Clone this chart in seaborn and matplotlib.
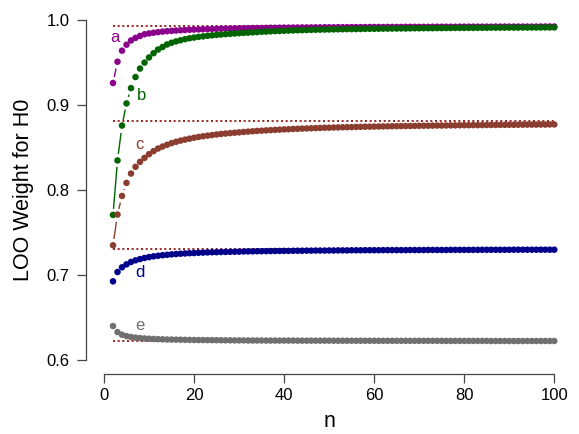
import pandas as pd
import matplotlib.pyplot as plt
import seaborn as sns

# sample size n and LOO weight for H0
n = list(range(2, 101))

weight_a = [.9260, .9510, .9640, .9710, .9760, .9790, .9813, .9833, .9843,
            .9851, .9858, .9864, .9869, .9873, .9877, .9880, .9883, .9886, .9888,
            .9890, .9892, .9894, .9896, .9897, .9898, .9900, .9901, .9902, .9903,
            .9904, .9905, .9906, .9907, .9907, .9908, .9909, .9909, .9910, .9911,
            .9911, .9912, .9912, .9913, .9913, .9913, .9914, .9914, .9915, .9915,
            .9915, .9916, .9916, .9916, .9917, .9917, .9917, .9917, .9918, .9918,
            .9918, .9918, .9919, .9919, .9919, .9919, .9920, .9920, .9920, .9920,
            .9920, .9920, .9921, .9921, .9921, .9921, .9921, .9921, .9922, .9922,
            .9922, .9922, .9922, .9922, .9922, .9922, .9923, .9923, .9923, .9923,
            .9923, .9923, .9923, .9923, .9923, .9923, .9924, .9924, .9924, .9924]

weight_b = [.7710, .8350, .8760, .9020, .9200, .9330, .9430, .9500, .9560,
            .9610, .9653, .9683, .9713, .9733, .9749, .9762, .9775, .9786, .9794,
            .9802, .9808, .9815, .9820, .9825, .9830, .9834, .9838, .9842, .9846,
            .9849, .9852, .9855, .9858, .9862, .9864, .9867, .9870, .9872, .9874,
            .9876, .9878, .9880, .9881, .9883, .9884, .9886, .9887, .9888, .9889,
            .9890, .9891, .9892, .9893, .9893, .9894, .9895, .9896, .9897, .9897,
            .9898, .9899, .9899, .9900, .9900, .9901, .9901, .9902, .9903, .9903,
            .9904, .9904, .9904, .9905, .9905, .9906, .9906, .9907, .9907, .9907,
            .9908, .9908, .9909, .9909, .9909, .9910, .9910, .9910, .9911, .9911,
            .9911, .9911, .9912, .9912, .9912, .9912, .9912, .9913, .9913, .9913]

weight_c = [.7353, .7714, .7933, .8086, .8196, .8275, .8333, .8380, .8424,
            .8459, .8490, .8513, .8534, .8553, .8569, .8583, .8595, .8606, .8617,
            .8626, .8634, .8642, .8648, .8655, .8661, .8666, .8671, .8676, .8680,
            .8685, .8689, .8693, .8697, .8700, .8703, .8706, .8709, .8712, .8715,
            .8717, .8720, .8722, .8724, .8726, .8728, .8730, .8732, .8734, .8735,
            .8737, .8738, .8740, .8741, .8742, .8744, .8745, .8746, .8747, .8748,
            .8749, .8750, .8751, .8752, .8753, .8754, .8754, .8755, .8756, .8757,
            .8758, .8758, .8759, .8760, .8760, .8761, .8762, .8762, .8763, .8764,
            .8764, .8765, .8765, .8766, .8766, .8767, .8767, .8768, .8768, .8769,
            .8769, .8770, .8770, .8771, .8771, .8771, .8772, .8772, .8773, .8773]

weight_d = [.6929, .7039, .7094, .7129, .7157, .7176, .7191, .7204, .7214,
            .7223, .7230, .7236, .7241, .7246, .7250, .7254, .7257, .7260, .7262,
            .7265, .7267, .7269, .7271, .7272, .7274, .7275, .7276, .7277, .7278,
            .7280, .7281, .7282, .7283, .7283, .7284, .7285, .7286, .7286, .7287,
            .7287, .7288, .7289, .7289, .7290, .7290, .7291, .7291, .7291, .7292,
            .7292, .7293, .7293, .7293, .7294, .7294, .7294, .7295, .7295, .7295,
            .7295, .7296, .7296, .7296, .7296, .7296, .7296, .7297, .7297, .7297,
            .7297, .7298, .7298, .7298, .7298, .7298, .7299, .7299, .7299, .7299,
            .7299, .7299, .7299, .7300, .7300, .7300, .7300, .7300, .7300, .7300,
            .7301, .7301, .7301, .7301, .7301, .7301, .7301, .7301, .7301, .7301]

weight_e = [.6404, .6333, .6302, .6286, .6275, .6268, .6263, .6258, .6255,
            .6252, .6250, .6248, .6246, .6245, .6244, .6243, .6242, .6241, .6240,
            .6239, .6239, .6238, .6238, .6237, .6237, .6236, .6236, .6235, .6235,
            .6235, .6234, .6234, .6234, .6234, .6233, .6233, .6233, .6233, .6233,
            .6233, .6233, .6232, .6232, .6232, .6232, .6232, .6232, .6232, .6232,
            .6231, .6231, .6231, .6231, .6231, .6231, .6231, .6231, .6231, .6231,
            .6230, .6230, .6230, .6230, .6230, .6230, .6230, .6230, .6230, .6230,
            .6230, .6230, .6230, .6230, .6230, .6229, .6229, .6229, .6229, .6229,
            .6229, .6229, .6229, .6229, .6229, .6228, .6228, .6228, .6228, .6228,
            .6228, .6228, .6228, .6228, .6228, .6228, .6228, .6228, .6228, .6228]

# limiting values (dotted lines)
limits = [0.9933, 0.8808, 0.7311, 0.6225]

series_names = ['a', 'b', 'c', 'd', 'e']
series_colors = ['#8B008B', '#006400', '#8B3E2F', '#00008B', '#707070']
label_x = [2.5, 8.4, 7.9, 8.0, 8.0]
label_y = [0.980, 0.911, 0.854, 0.703, 0.641]

df = pd.DataFrame({
    'n': n * 5,
    'weight': weight_a + weight_b + weight_c + weight_d + weight_e,
    'series': [s for s in series_names for _ in n],
})
palette = dict(zip(series_names, series_colors))

sns.set_style('ticks')
plt.rcParams['font.family'] = ['Liberation Sans', 'DejaVu Sans']
plt.rcParams['text.color'] = 'black'
plt.rcParams['axes.labelcolor'] = 'black'

fig = plt.figure(figsize=(5.79, 4.34), dpi=100)
ax = fig.add_axes([0.1485, 0.1382, 0.8399, 0.847])

# type="b" look: lines, white gaps round the points, then the points
sns.lineplot(data=df, x='n', y='weight', hue='series', palette=palette,
             estimator=None, linewidth=1.0, legend=False, ax=ax, zorder=1)
sns.scatterplot(data=df, x='n', y='weight', color='white', s=90,
                linewidth=0, legend=False, ax=ax, zorder=2)
ax.hlines(limits, 2, 100, colors='#8B0000', linestyles=(0, (1.2, 1.6)),
          linewidth=1.2, zorder=3)
sns.scatterplot(data=df, x='n', y='weight', hue='series', palette=palette,
                s=22, linewidth=0, legend=False, ax=ax, zorder=4)

for name, col, lx, ly in zip(series_names, series_colors, label_x, label_y):
    ax.text(lx, ly, name, color=col, fontsize=12, ha='center', va='center')

ax.set_xlim(-4, 104)
ax.set_ylim(0.584, 1.016)
ax.set_xticks([0, 20, 40, 60, 80, 100])
ax.set_yticks([0.6, 0.7, 0.8, 0.9, 1.0])
ax.set_yticklabels(['0.6', '0.7', '0.8', '0.9', '1.0'])

sns.despine(ax=ax)
ax.spines['left'].set_bounds(0.6, 1.0)
ax.spines['bottom'].set_bounds(0, 100)
for side in ['left', 'bottom']:
    ax.spines[side].set_color('#444444')
    ax.spines[side].set_linewidth(0.9)
ax.tick_params(axis='both', direction='out', length=6.3, width=0.9,
               color='#444444', labelsize=12, labelcolor='black')
ax.tick_params(axis='y', pad=5.5)
ax.tick_params(axis='x', pad=3.5)

ax.set_xlabel('n', fontsize=15.5, labelpad=6, color='black')
ax.set_ylabel('LOO Weight for H0', fontsize=15.5, labelpad=9, color='black')

fig.savefig('out.png', dpi=100)
